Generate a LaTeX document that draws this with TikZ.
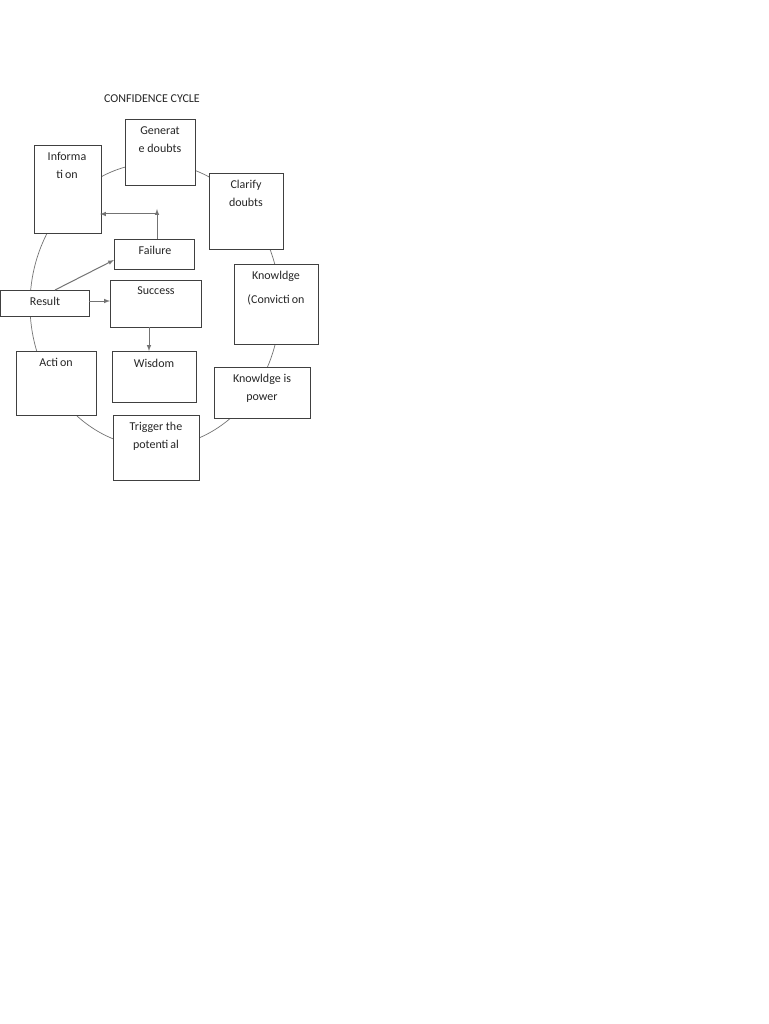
\documentclass[tikz,border=0pt]{standalone}
\usepackage{fontspec}
\setmainfont{Carlito}
\begin{document}
\begin{tikzpicture}[x=1pt,y=-1pt,
  bx/.style={draw=black!75,fill=white,line width=0.7pt},
  lbl/.style={anchor=north,font=\fontsize{12}{18}\selectfont,align=center,inner sep=0pt,text=black!85},
  arr/.style={draw=black!55,line width=1pt,-latex}]
\useasboundingbox (0,0) rectangle (768,1024);
\fill[white] (0,0) rectangle (768,1024);
\node[lbl] (title) at (152,95) {CONFIDENCE CYCLE};
\draw[black!55,line width=0.7pt] (155,305) ellipse [x radius=125, y radius=142];
\draw[bx] (125,119) rectangle (195,185) coordinate (gd);
\node[lbl] (tgd) at (160,127) {Generat\\e doubts};
\draw[bx] (34,145) rectangle (101,233);
\node (info) at (101,214) {};
\node[lbl] (tinfo) at (67,152) {Informa\\ti\,on};
\draw[bx] (209,173) rectangle (283,249);
\node[lbl] (tcd) at (246,180) {Clarify\\doubts};
\draw[bx] (234,264) rectangle (318,344);
\node[lbl] (tk) at (276,271) {Knowldge\\[6pt](Convicti\,on};
\draw[bx] (114,239) rectangle (194,269);
\node[lbl] (tfail) at (155,246) {Failure};
\draw[bx] (0,290) rectangle (89,316);
\node[lbl] (tres) at (45,297) {Result};
\draw[bx] (110,280) rectangle (201,327);
\node[lbl] (tsuc) at (156,287) {Success};
\draw[bx] (112,351) rectangle (196,402);
\node[lbl] (twis) at (154,359) {Wisdom};
\draw[bx] (16,351) rectangle (96,415);
\node[lbl] (tact) at (56,358) {Acti\,on};
\draw[bx] (214,367) rectangle (310,418);
\node[lbl] (tkp) at (262,374) {Knowldge is\\power};
\draw[bx] (113,415) rectangle (199,480);
\node[lbl] (ttr) at (156,422) {Trigger the\\potenti\,al};
\coordinate (fTop) at (157,239);
\coordinate (fUp) at (157,209);
\coordinate (fJ) at (157,214);
\coordinate (iR) at (100,214);
\coordinate (rA) at (55,290);
\coordinate (fL) at (114,260);
\coordinate (rR) at (89,301);
\coordinate (sL) at (110,301);
\coordinate (sB) at (149,327);
\coordinate (wT) at (149,351);
\draw[arr] (fTop) -- (fUp);
\draw[arr] (fJ) -- (iR);
\draw[arr] (rA) -- (fL);
\draw[arr] (rR) -- (sL);
\draw[arr] (sB) -- (wT);
\end{tikzpicture}
\end{document}
